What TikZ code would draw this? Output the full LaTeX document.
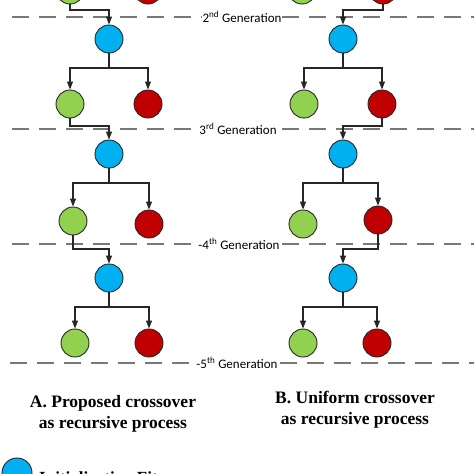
\documentclass[tikz,border=0pt]{standalone}
\usepackage{fontspec}
\setmainfont{Liberation Serif}
\newfontfamily\calfont{Carlito}
\usetikzlibrary{arrows.meta}
\definecolor{cblue}{RGB}{0,176,240}
\definecolor{cgreen}{RGB}{146,208,80}
\definecolor{cred}{RGB}{192,0,0}
\definecolor{dashgray}{RGB}{120,120,120}
\begin{document}
\begin{tikzpicture}[x=1pt,y=-1pt,
  ind/.style={circle,draw=black!85,line width=0.9pt,minimum size=28pt,inner sep=0pt},
  par/.style={ind,fill=cblue},
  chg/.style={ind,fill=cgreen},
  chr/.style={ind,fill=cred},
  arr/.style={draw=black!85,line width=1.1pt,-{Triangle[width=6pt,length=8pt]}},
  genline/.style={draw=dashgray,line width=1.8pt,dash pattern=on 17pt off 10pt},
  genlabel/.style={fill=white,inner sep=0.5pt,font=\calfont\fontsize{13}{15}\selectfont},
  title/.style={align=center,font=\bfseries\fontsize{17.5}{21}\selectfont}
]
\useasboundingbox (0,0) rectangle (474,474);
% generation lines
\draw[genline] (12,17) -- (480,17);
\draw[genline] (12,129) -- (480,129);
\draw[genline] (12,244) -- (480,244);
\draw[genline] (10,363) -- (480,363);
% left column
\node[chg] (g0L) at (70,-10) {};
\node[chr] (r0L) at (148,-10) {};
\node[par] (b1L) at (109,39) {};
\node[chg] (g1L) at (70,104) {};
\node[chr] (r1L) at (148,104) {};
\node[par] (b2L) at (109,154) {};
\node[chg] (g2L) at (73,221) {};
\node[chr] (r2L) at (149,224) {};
\node[par] (b3L) at (109,278) {};
\node[chg] (g3L) at (75,343) {};
\node[chr] (r3L) at (149,343) {};
% right column
\node[chg] (g0R) at (302,-10) {};
\node[chr] (r0R) at (383,-10) {};
\node[par] (b1R) at (343,39) {};
\node[chg] (g1R) at (304,104) {};
\node[chr] (r1R) at (382,104) {};
\node[par] (b2R) at (343,154) {};
\node[chg] (g2R) at (303,224) {};
\node[chr] (r2R) at (378,220) {};
\node[par] (b3R) at (343,278) {};
\node[chg] (g3R) at (303,343) {};
\node[chr] (r3R) at (377,343) {};
% joints
\coordinate (t0L) at (70,10);
\coordinate (t1L) at (70,126);
\coordinate (t2L) at (73,249);
\coordinate (t0R) at (383,10);
\coordinate (t1R) at (382,126);
\coordinate (t2R) at (378,249);
\coordinate (j1L) at (109,68);
\coordinate (j2L) at (109,183);
\coordinate (j3L) at (109,307);
\coordinate (j1R) at (343,68);
\coordinate (j2R) at (343,183);
\coordinate (j3R) at (343,307);
% connectors left
\draw[arr] (g0L.south) -- (t0L) -| (b1L.north);
\draw[arr] (b1L.south) -- (j1L) -| (g1L.north);
\draw[arr] (j1L) -| (r1L.north);
\draw[arr] (g1L.south) -- (t1L) -| (b2L.north);
\draw[arr] (b2L.south) -- (j2L) -| (g2L.north);
\draw[arr] (j2L) -| (r2L.north);
\draw[arr] (g2L.south) -- (t2L) -| (b3L.north);
\draw[arr] (b3L.south) -- (j3L) -| (g3L.north);
\draw[arr] (j3L) -| (r3L.north);
% connectors right
\draw[arr] (r0R.south) -- (t0R) -| (b1R.north);
\draw[arr] (b1R.south) -- (j1R) -| (g1R.north);
\draw[arr] (j1R) -| (r1R.north);
\draw[arr] (r1R.south) -- (t1R) -| (b2R.north);
\draw[arr] (b2R.south) -- (j2R) -| (g2R.north);
\draw[arr] (j2R) -| (r2R.north);
\draw[arr] (r2R.south) -- (t2R) -| (b3R.north);
\draw[arr] (b3R.south) -- (j3R) -| (g3R.north);
\draw[arr] (j3R) -| (r3R.north);
% generation labels
\node[genlabel] (G2) at (242,17) {2\textsuperscript{nd} Generation};
\node[genlabel] (G3) at (238,129) {3\textsuperscript{rd} Generation};
\node[genlabel] (G4) at (239,244) {-4\textsuperscript{th} Generation};
\node[genlabel] (G5) at (237,363) {-5\textsuperscript{th} Generation};
% titles
\node[title] (tA) at (113,414) {A. Proposed crossover\\as recursive process};
\node[title] (tB) at (355,410) {B. Uniform crossover\\as recursive process};
% legend
\node[par,minimum size=30pt] (legB) at (17,473) {};
\node[anchor=base west,inner sep=0pt,font=\bfseries\fontsize{17}{20}\selectfont] (legT) at (39,483) {Initialization Fitness};
\end{tikzpicture}
\end{document}
